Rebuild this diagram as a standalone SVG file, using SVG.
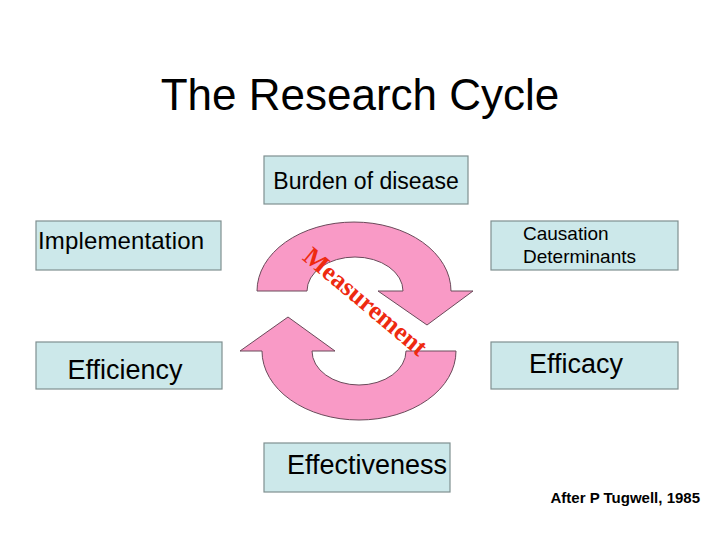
<svg xmlns="http://www.w3.org/2000/svg" width="720" height="540" viewBox="0 0 720 540">
<style>
.box{fill:#cce8ea;stroke:#7f8f90;stroke-width:1.2}
.t{font-family:"Liberation Sans",Arial,sans-serif;fill:#000}
.arr{fill:#f99ac6;stroke:#6a4a5a;stroke-width:1}
</style>
<rect width="720" height="540" fill="#fff"/>
<text class="t" x="360" y="110" font-size="44" text-anchor="middle">The Research Cycle</text>
<g id="connectors">
<path class="arr" d="M257,291 A97,69 0 0 1 451,291 L473,291 L427,325 L378,291 L403,291 A48,34 0 0 0 307,291 Z"/>
<path class="arr" d="M456,351 A97,69 0 0 1 262,351 L240,351 L288,317 L335,351 L312,351 A47,34 0 0 0 406,351 Z"/>
</g>
<g id="measurement"><text transform="translate(360,308) rotate(40)" font-family="'Liberation Serif',serif" font-weight="bold" font-size="26" fill="#ee2a10" text-anchor="middle">Measurement</text></g>
<g id="burden"><rect class="box" x="264" y="156" width="204" height="48"/><text class="t" x="366" y="189" font-size="23" text-anchor="middle">Burden of disease</text></g>
<g id="implementation"><rect class="box" x="36" y="221" width="185" height="49"/><text class="t" x="38" y="249" font-size="24" textLength="166">Implementation</text></g>
<g id="causation"><rect class="box" x="491" y="221" width="187" height="49"/><text class="t" x="523" y="240" font-size="19">Causation</text><text class="t" x="523" y="263" font-size="19">Determinants</text></g>
<g id="efficiency"><rect class="box" x="36" y="342" width="186" height="47"/><text class="t" x="125" y="379" font-size="27" text-anchor="middle">Efficiency</text></g>
<g id="efficacy"><rect class="box" x="491" y="342" width="187" height="47"/><text class="t" x="576" y="373" font-size="27" text-anchor="middle">Efficacy</text></g>
<g id="effectiveness"><rect class="box" x="264" y="443" width="186" height="49"/><text class="t" x="367" y="474" font-size="27" text-anchor="middle">Effectiveness</text></g>
<text class="t" x="700" y="503" font-size="15" font-weight="bold" text-anchor="end">After P Tugwell, 1985</text>
</svg>
